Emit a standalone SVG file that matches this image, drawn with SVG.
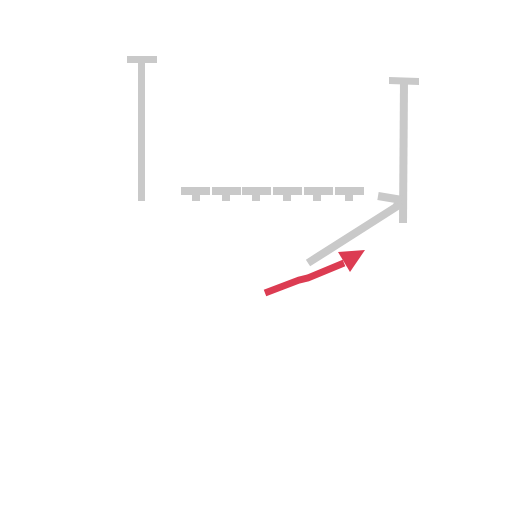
<svg xmlns="http://www.w3.org/2000/svg" width="512" height="512" viewBox="0 0 512 512">
<style>
.g{fill:#c9c9c9;stroke:none}
.gl{stroke:#c9c9c9;stroke-width:8;fill:none}
.r{stroke:#dc3c52;stroke-width:7;fill:none}
</style>
<rect width="512" height="512" fill="#fff"/>
<g id="left-t">
<rect class="g" x="127" y="56" width="30" height="7"/>
<rect class="g" x="138" y="56" width="7" height="145"/>
</g>
<g id="right-t">
<polygon class="g" points="389,77 419,78 419,85 389,84"/>
<polygon class="g" points="400,80 408,80 407,223 399,223"/>
</g>
<g id="line">
<g id="b1"><rect class="g" x="181" y="187" width="29" height="8"/><rect class="g" x="192" y="194" width="8" height="7"/></g>
<g id="b2"><rect class="g" x="212" y="187" width="29" height="8"/><rect class="g" x="222" y="194" width="8" height="7"/></g>
<g id="b3"><rect class="g" x="242" y="187" width="29" height="8"/><rect class="g" x="252" y="194" width="8" height="7"/></g>
<g id="b4"><rect class="g" x="273" y="187" width="29" height="8"/><rect class="g" x="283" y="194" width="8" height="7"/></g>
<g id="b5"><rect class="g" x="304" y="187" width="29" height="8"/><rect class="g" x="313" y="194" width="8" height="7"/></g>
<g id="b6"><rect class="g" x="335" y="187" width="29" height="8"/><rect class="g" x="345" y="194" width="8" height="7"/></g>
</g>
<g id="connectors">
<polyline class="gl" points="308,263 396,207 399,202"/>
<line class="gl" x1="378" y1="196" x2="402" y2="200"/>
<polyline class="r" points="265,293 299,280 308,278 344,263"/>
<polygon fill="#dc3c52" points="338,252 365,250 350,272"/>
</g>
</svg>
